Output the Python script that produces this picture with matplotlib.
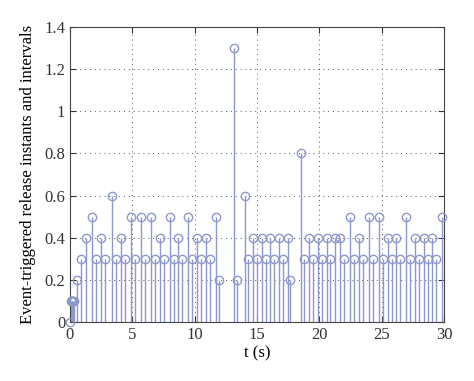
import matplotlib
matplotlib.use("Agg")
import matplotlib.pyplot as plt
import numpy as np

t_release = [0.0, 0.1, 0.15, 0.2, 0.25, 0.3, 0.59, 0.88, 1.31, 1.79, 2.09, 2.49, 2.81, 3.39, 3.69,
             4.06, 4.41, 4.89, 5.21, 5.67, 6.01, 6.47, 6.82, 7.19, 7.51, 7.99, 8.31,
             8.69, 9.01, 9.49, 9.81, 10.18, 10.5, 10.88, 11.2, 11.68, 11.92,
             13.15, 13.39, 14.0, 14.3, 14.67, 14.99, 15.4, 15.7, 16.05, 16.38,
             16.78, 17.05, 17.48, 17.67, 18.5, 18.79, 19.19, 19.46, 19.89, 20.18,
             20.58, 20.88, 21.28, 21.65, 22.0, 22.48, 22.8, 23.18, 23.5, 23.98,
             24.3, 24.78, 25.1, 25.48, 25.79, 26.17, 26.49, 26.97, 27.29, 27.67,
             27.99, 28.36, 28.68, 29.06, 29.38, 29.86]
intervals = [0.0, 0.1, 0.1, 0.1, 0.1, 0.1, 0.2, 0.3, 0.4, 0.5, 0.3, 0.4, 0.3, 0.6, 0.3,
             0.4, 0.3, 0.5, 0.3, 0.5, 0.3, 0.5, 0.3, 0.4, 0.3, 0.5, 0.3,
             0.4, 0.3, 0.5, 0.3, 0.4, 0.3, 0.4, 0.3, 0.5, 0.2,
             1.3, 0.2, 0.6, 0.3, 0.4, 0.3, 0.4, 0.3, 0.4, 0.3,
             0.4, 0.3, 0.4, 0.2, 0.8, 0.3, 0.4, 0.3, 0.4, 0.3,
             0.4, 0.3, 0.4, 0.4, 0.3, 0.5, 0.3, 0.4, 0.3, 0.5,
             0.3, 0.5, 0.3, 0.4, 0.3, 0.4, 0.3, 0.5, 0.3, 0.4,
             0.3, 0.4, 0.3, 0.4, 0.3, 0.5]
x_ticks = [0, 5, 10, 15, 20, 25, 30]
y_ticks = [0, 0.2, 0.4, 0.6, 0.8, 1, 1.2, 1.4]
y_tick_labels = ["0", "0.2", "0.4", "0.6", "0.8", "1", "1.2", "1.4"]

plt.rcParams['font.family'] = ['Liberation Serif', 'DejaVu Serif']

fig = plt.figure(figsize=(4.74, 3.81), dpi=100)
ax = fig.add_axes([70/474, 59/381, 374/474, 295/381])

color = '#8f98cc'
markerline, stemlines, baseline = ax.stem(t_release, intervals, basefmt=' ')
plt.setp(stemlines, color=color, linewidth=1.0)
plt.setp(markerline, markerfacecolor='none', markeredgecolor=color, markersize=6,
         markeredgewidth=1.0, clip_on=False, zorder=3)

ax.set_xlim(0, 30)
ax.set_ylim(0, 1.4)
ax.set_xticks(x_ticks)
ax.set_yticks(y_ticks)
ax.set_yticklabels(y_tick_labels)
ax.grid(True, linestyle=(0, (1, 4)), color='#555555', linewidth=0.7)
ax.set_axisbelow(True)
ax.tick_params(direction='in', top=True, right=True, labelsize=12, length=4, colors='#333333')
for s in ax.spines.values():
    s.set_color('#444444')
    s.set_linewidth(0.8)
ax.set_xlabel('t (s)', fontsize=12, labelpad=2)
ax.set_ylabel('Event-triggered release instants and intervals', fontsize=12, labelpad=6)

fig.savefig('out.png', dpi=100)
